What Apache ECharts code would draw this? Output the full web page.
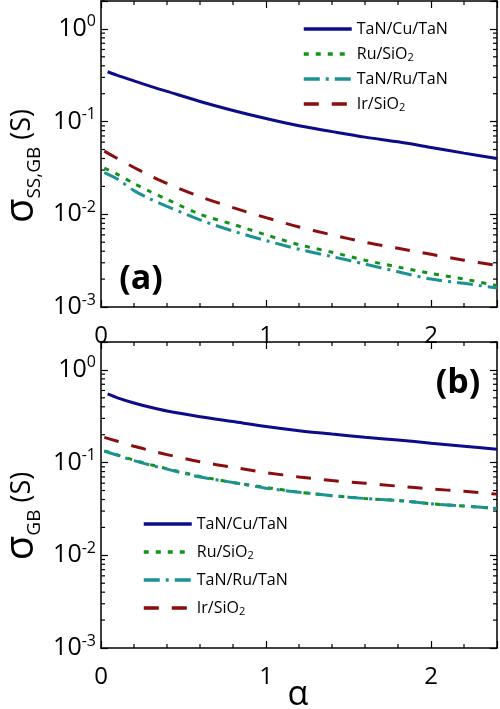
<!DOCTYPE html>
<html>
<head>
<meta charset="utf-8">
<script src="https://cdn.jsdelivr.net/npm/echarts@6/dist/echarts.min.js"></script>
<style>
  html, body { margin: 0; padding: 0; background: #fff; }
  #chart { width: 500px; height: 709px; }
</style>
</head>
<body>
<div id="chart"></div>
<script>
// alpha values (x)
const alphaCu = [0.04, 0.1, 0.2, 0.3, 0.4, 0.6, 0.8, 1.0, 1.2, 1.4, 1.6, 1.8, 2.0, 2.2, 2.4];
const alpha = [0.02, 0.1, 0.2, 0.3, 0.4, 0.6, 0.8, 1.0, 1.2, 1.4, 1.6, 1.8, 2.0, 2.2, 2.4];

// panel (a): sigma_SS,GB (S)
const ssCu = [0.345, 0.315, 0.275, 0.24, 0.212, 0.165, 0.132, 0.108, 0.090, 0.078, 0.068, 0.0605, 0.0526, 0.0457, 0.040];
const ssRu = [0.0314, 0.027, 0.0215, 0.0175, 0.0145, 0.0100, 0.0078, 0.0060, 0.0047, 0.0039, 0.0032, 0.0027, 0.0023, 0.0020, 0.0017];
const ssRuTaN = [0.0282, 0.024, 0.018, 0.0146, 0.0122, 0.0087, 0.0066, 0.0052, 0.0042, 0.0035, 0.0029, 0.0024, 0.0020, 0.0018, 0.0016];
const ssIr = [0.048, 0.040, 0.032, 0.026, 0.0215, 0.0155, 0.0118, 0.0092, 0.0073, 0.0060, 0.0050, 0.0043, 0.0037, 0.0032, 0.0028];

// panel (b): sigma_GB (S)
const gbCu = [0.55, 0.50, 0.44, 0.395, 0.36, 0.313, 0.277, 0.245, 0.221, 0.203, 0.188, 0.175, 0.162, 0.150, 0.139];
const gbRu = [0.134, 0.121, 0.106, 0.095, 0.086, 0.071, 0.061, 0.054, 0.048, 0.044, 0.041, 0.039, 0.036, 0.034, 0.032];
const gbRuTaN = [0.133, 0.120, 0.105, 0.094, 0.085, 0.070, 0.061, 0.053, 0.048, 0.044, 0.041, 0.039, 0.036, 0.034, 0.032];
const gbIr = [0.187, 0.170, 0.150, 0.135, 0.122, 0.102, 0.089, 0.078, 0.070, 0.064, 0.060, 0.0557, 0.052, 0.049, 0.0457];

const names = ['TaN/Cu/TaN', 'Ru/SiO2', 'TaN/Ru/TaN', 'Ir/SiO2'];

// axis ranges and minor tick positions
const xMin = 0, xMax = 2.4;
const yMin = 0.001, yMax = 2;
const xMinor = [0.2, 0.4, 0.6, 0.8, 1.2, 1.4, 1.6, 1.8, 2.2];
const decades = [0.001, 0.01, 0.1, 1];
const yMinor = [];
decades.forEach(d => [2, 3, 4, 5, 6, 7, 8, 9].forEach(m => {
    if (d * m <= yMax + 1e-9) yMinor.push(d * m);
}));

const font = '"Open Sans", "DejaVu Sans", sans-serif';
const colors = {
    cu: '#0c0c8a',
    ru: '#13921a',
    ruTaN: '#1b9393',
    ir: '#8b0d0d'
};
const styles = {
    cu: 'solid',
    ru: [5, 7],
    ruTaN: [16, 6, 3, 6],
    ir: [15, 13]
};

const pairs = (xs, ys) => xs.map((x, i) => [x, ys[i]]);

function lineSeries(name, key, xs, ys, idx) {
    return {
        name: name,
        type: 'line',
        xAxisIndex: idx * 2,
        yAxisIndex: idx * 2,
        data: pairs(xs, ys),
        smooth: 0.3,
        symbol: 'none',
        silent: true,
        lineStyle: { color: colors[key], width: 3, type: styles[key] },
        itemStyle: { color: colors[key] }
    };
}

function minorTicks(idx) {
    const stroke = { stroke: '#000', lineWidth: 1.2 };
    return [{
        type: 'custom',
        xAxisIndex: idx * 2,
        yAxisIndex: idx * 2,
        silent: true,
        data: xMinor.map(v => [v, yMin]),
        renderItem: (params, api) => {
            const v = api.value(0);
            const b = api.coord([v, yMin]);
            const t = api.coord([v, yMax]);
            return {
                type: 'group',
                children: [
                    { type: 'line', shape: { x1: b[0], y1: b[1], x2: b[0], y2: b[1] - 4 }, style: stroke },
                    { type: 'line', shape: { x1: t[0], y1: t[1], x2: t[0], y2: t[1] + 4 }, style: stroke }
                ]
            };
        }
    }, {
        type: 'custom',
        xAxisIndex: idx * 2,
        yAxisIndex: idx * 2,
        silent: true,
        data: yMinor.map(v => [xMin, v]),
        renderItem: (params, api) => {
            const v = api.value(1);
            const l = api.coord([xMin, v]);
            const r = api.coord([xMax, v]);
            return {
                type: 'group',
                children: [
                    { type: 'line', shape: { x1: l[0], y1: l[1], x2: l[0] + 4, y2: l[1] }, style: stroke },
                    { type: 'line', shape: { x1: r[0], y1: r[1], x2: r[0] - 4, y2: r[1] }, style: stroke }
                ]
            };
        }
    }];
}

const axisLine = { show: true, onZero: false, lineStyle: { color: '#000', width: 1.5 } };
const axisTick = { show: true, inside: true, length: 7, lineStyle: { color: '#000', width: 1.2 } };

function xAxes(idx) {
    return [{
        type: 'value', gridIndex: idx, min: xMin, max: xMax, interval: 1,
        axisLine: axisLine, axisTick: axisTick, splitLine: { show: false },
        axisLabel: {
            margin: 17, color: '#000', fontSize: 24, fontFamily: font,
            formatter: v => Math.abs(v - Math.round(v)) < 1e-6 ? String(Math.round(v)) : ''
        }
    }, {
        type: 'value', gridIndex: idx, position: 'top', min: xMin, max: xMax, interval: 1,
        axisLine: axisLine, axisTick: axisTick, splitLine: { show: false },
        axisLabel: { show: false }
    }];
}

function yAxes(idx) {
    return [{
        type: 'log', gridIndex: idx, min: yMin, max: yMax, logBase: 10,
        axisLine: axisLine, axisTick: axisTick, splitLine: { show: false },
        axisLabel: {
            margin: 5, color: '#000', fontSize: 25, fontFamily: font, lineHeight: 30,
            formatter: v => {
                const e = Math.log10(v);
                if (Math.abs(e - Math.round(e)) > 1e-6) return '';
                return '10{sup|' + Math.round(e) + '}';
            },
            rich: {
                sup: { fontSize: 16, fontFamily: font, color: '#000', verticalAlign: 'top', lineHeight: 30 }
            }
        }
    }, {
        type: 'log', gridIndex: idx, position: 'right', min: yMin, max: yMax, logBase: 10,
        axisLine: axisLine, axisTick: axisTick, splitLine: { show: false },
        axisLabel: { show: false }
    }];
}

const legendRich = {
    sub: { fontSize: 11, fontFamily: font, color: '#000', verticalAlign: 'bottom', lineHeight: 18 }
};
const legendFormatter = n => n.replace('2', '{sub|2}');

function legend(left, top, gap) {
    return {
        data: names,
        orient: 'vertical',
        left: left, top: top,
        itemWidth: 48, itemHeight: 14, itemGap: gap,
        selectedMode: false,
        itemStyle: { color: 'rgba(0,0,0,0)', borderWidth: 0 },
        lineStyle: { width: 3.5 },
        textStyle: { fontSize: 16, fontFamily: font, color: '#000', lineHeight: 18, rich: legendRich },
        formatter: legendFormatter
    };
}

const nameRich = {
    g: { fontSize: 40, fontFamily: font, color: '#000', lineHeight: 44 },
    s: { fontSize: 19, fontFamily: font, color: '#000', verticalAlign: 'bottom', lineHeight: 44 },
    n: { fontSize: 27, fontFamily: font, color: '#000', lineHeight: 44 }
};

const chart = echarts.init(document.getElementById('chart'));

let option = {
    animation: false,
    backgroundColor: '#fff',
    grid: [
        { left: 101, top: 1, width: 398, height: 306 },
        { left: 101, top: 342, width: 398, height: 306 }
    ],
    xAxis: [...xAxes(0), ...xAxes(1)],
    yAxis: [...yAxes(0), ...yAxes(1)],
    legend: [legend(297, 15, 7), legend(137, 510, 10)],
    series: [
        lineSeries(names[0], 'cu', alphaCu, ssCu, 0),
        lineSeries(names[1], 'ru', alpha, ssRu, 0),
        lineSeries(names[2], 'ruTaN', alpha, ssRuTaN, 0),
        lineSeries(names[3], 'ir', alpha, ssIr, 0),
        lineSeries(names[0], 'cu', alphaCu, gbCu, 1),
        lineSeries(names[1], 'ru', alpha, gbRu, 1),
        lineSeries(names[2], 'ruTaN', alpha, gbRuTaN, 1),
        lineSeries(names[3], 'ir', alpha, gbIr, 1),
        ...minorTicks(0),
        ...minorTicks(1)
    ],
    graphic: [
        {
            type: 'text', x: 22, y: 166, rotation: Math.PI / 2,
            style: { text: '{g|σ}{s|SS,GB}{n| (S)}', rich: nameRich, textAlign: 'center', textVerticalAlign: 'middle', align: 'center', verticalAlign: 'middle' }
        },
        {
            type: 'text', x: 22, y: 516, rotation: Math.PI / 2,
            style: { text: '{g|σ}{s|GB}{n| (S)}', rich: nameRich, textAlign: 'center', textVerticalAlign: 'middle', align: 'center', verticalAlign: 'middle' }
        },
        {
            type: 'text', x: 141, y: 279,
            style: { text: '(a)', fontSize: 34, fontWeight: 'bold', fontFamily: font, fill: '#000', textAlign: 'center', textVerticalAlign: 'middle', align: 'center', verticalAlign: 'middle' }
        },
        {
            type: 'text', x: 458, y: 383,
            style: { text: '(b)', fontSize: 34, fontWeight: 'bold', fontFamily: font, fill: '#000', textAlign: 'center', textVerticalAlign: 'middle', align: 'center', verticalAlign: 'middle' }
        },
        {
            type: 'text', x: 298, y: 695,
            style: { text: 'α', fontSize: 34, fontFamily: font, fill: '#000', textAlign: 'center', textVerticalAlign: 'middle', align: 'center', verticalAlign: 'middle' }
        }
    ]
};

chart.setOption(option);
</script>
</body>
</html>
